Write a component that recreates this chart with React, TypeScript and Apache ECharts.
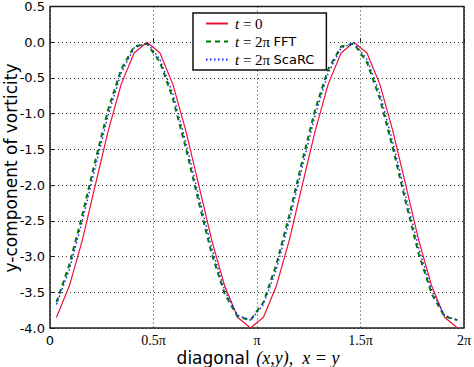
import React, { useEffect, useRef } from "react";
import * as echarts from "echarts";

// x positions along the diagonal, in units of pi
const xPi = [
  0.03125, 0.09375, 0.15625, 0.21875, 0.28125, 0.34375, 0.40625, 0.46875,
  0.53125, 0.59375, 0.65625, 0.71875, 0.78125, 0.84375, 0.90625, 0.96875,
  1.03125, 1.09375, 1.15625, 1.21875, 1.28125, 1.34375, 1.40625, 1.46875,
  1.53125, 1.59375, 1.65625, 1.71875, 1.78125, 1.84375, 1.90625, 1.96875,
];
const initialValues = [
  -3.85, -3.41, -2.77, -2.0, -1.24, -0.59, -0.15, 0.0,
  -0.15, -0.59, -1.24, -2.0, -2.77, -3.41, -3.85, -4.0,
  -3.85, -3.41, -2.77, -2.0, -1.24, -0.59, -0.15, 0.0,
  -0.15, -0.59, -1.24, -2.0, -2.77, -3.41, -3.85, -4.0,
];
const fftValues = [
  -3.64, -3.11, -2.42, -1.66, -0.94, -0.38, -0.06, -0.02,
  -0.28, -0.79, -1.48, -2.24, -2.96, -3.52, -3.84, -3.89,
  -3.64, -3.11, -2.42, -1.66, -0.94, -0.38, -0.06, -0.02,
  -0.28, -0.79, -1.48, -2.24, -2.96, -3.52, -3.84, -3.89,
];
const scarcValues = [
  -3.67, -3.18, -2.5, -1.75, -1.02, -0.43, -0.08, -0.01,
  -0.24, -0.72, -1.4, -2.16, -2.88, -3.47, -3.82, -3.89,
  -3.67, -3.18, -2.5, -1.75, -1.02, -0.43, -0.08, -0.01,
  -0.24, -0.72, -1.4, -2.16, -2.88, -3.47, -3.82, -3.89,
];
const seriesNames = ["t=0", "t=2π FFT", "t=2π ScaRC"];
const legendLabels = [
  "{i|t}{m| = 0}",
  "{i|t}{m| = 2π} {s|FFT}",
  "{i|t}{m| = 2π} {s|ScaRC}",
];
const xTickValues = [0, 0.5, 1, 1.5, 2];
const xTickLabels = ["0", "0.5π", "π", "1.5π", "2π"];
const xTitle = "{s|diagonal}  {m|(x,y),  x = y}";
const yTitle = "y-component of vorticity";

const SANS = "DejaVu Sans";
const SERIF = "Liberation Serif";

export default function App() {
  const ref = useRef<HTMLDivElement>(null);
  useEffect(() => {
    if (!ref.current) return;
    const chart = echarts.init(ref.current, null, { renderer: "svg" });
    const mk = (vals: number[]) => xPi.map((x, i) => [x, vals[i]]);
    chart.setOption({
      animation: false,
      backgroundColor: "#fff",
      grid: {
        left: 50,
        right: 8,
        top: 5,
        bottom: 39,
        show: true,
        borderColor: "#222",
        borderWidth: 1.5,
      },
      xAxis: {
        type: "value",
        min: 0,
        max: 2,
        interval: 0.5,
        axisLine: { show: false },
        axisTick: { show: true, inside: true, length: 4, lineStyle: { color: "#222" } },
        splitLine: { show: true, lineStyle: { color: "#000", type: [1, 3], width: 1, opacity: 0.8 } },
        axisLabel: {
          margin: 6,
          formatter: (v: number) => {
            const idx = xTickValues.findIndex((t) => Math.abs(t - v) < 1e-6);
            if (idx < 0) return "";
            return idx === 0 ? "{s|" + xTickLabels[idx] + "}" : "{m|" + xTickLabels[idx] + "}";
          },
          rich: {
            s: { fontFamily: SANS, fontSize: 13, lineHeight: 13, color: "#000" },
            m: { fontFamily: SERIF, fontSize: 14, lineHeight: 13, color: "#000" },
          },
        },
      },
      yAxis: {
        type: "value",
        min: -4,
        max: 0.5,
        interval: 0.5,
        axisLine: { show: false },
        axisTick: { show: true, inside: true, length: 4, lineStyle: { color: "#222" } },
        splitLine: { show: true, lineStyle: { color: "#000", type: [1, 3], width: 1, opacity: 0.8 } },
        axisLabel: {
          margin: 5,
          fontFamily: SANS,
          fontSize: 13,
          color: "#000",
          formatter: (v: number) => v.toFixed(1),
        },
      },
      legend: {
        left: 193,
        top: 13,
        orient: "vertical",
        backgroundColor: "#fff",
        borderColor: "#111",
        borderWidth: 1.5,
        borderRadius: 0,
        padding: [3, 12, 3, 12],
        itemWidth: 22,
        itemHeight: 12,
        itemGap: 3,
        itemStyle: { opacity: 0 },
        data: seriesNames,
        formatter: (name: string) => legendLabels[seriesNames.indexOf(name)],
        textStyle: {
          color: "#000",
          padding: [0, 0, 0, 2],
          rich: {
            i: { fontFamily: SERIF, fontStyle: "italic", fontSize: 15, lineHeight: 14, color: "#000" },
            m: { fontFamily: SERIF, fontSize: 15, lineHeight: 14, color: "#000" },
            s: { fontFamily: SANS, fontSize: 13, lineHeight: 14, color: "#000" },
          },
        },
      },
      graphic: [
        {
          type: "text",
          x: 258,
          y: 366,
          style: {
            text: xTitle,
            align: "center",
            verticalAlign: "bottom",
            rich: {
              s: { fontFamily: SANS, fontSize: 17, lineHeight: 17, fill: "#000" },
              m: { fontFamily: SERIF, fontStyle: "italic", fontSize: 18, lineHeight: 17, fill: "#000" },
            },
          },
        },
        {
          type: "text",
          x: 2,
          y: 168,
          rotation: Math.PI / 2,
          style: {
            text: yTitle,
            align: "center",
            verticalAlign: "top",
            fontFamily: SANS,
            fontSize: 17,
            fill: "#000",
          },
        },
      ],
      series: [
        {
          name: seriesNames[0],
          type: "line",
          data: mk(initialValues),
          symbol: "none",
          lineStyle: { color: "#ee1133", width: 1.2, type: "solid" },
          itemStyle: { color: "#ee1133" },
        },
        {
          name: seriesNames[1],
          type: "line",
          data: mk(fftValues),
          symbol: "none",
          lineStyle: { color: "#007a00", width: 2, type: [5, 4] },
          itemStyle: { color: "#007a00" },
        },
        {
          name: seriesNames[2],
          type: "line",
          data: mk(scarcValues),
          symbol: "none",
          lineStyle: { color: "#1a1aff", width: 1.4, type: [1.5, 2.5] },
          itemStyle: { color: "#1a1aff" },
        },
      ],
    });
    return () => chart.dispose();
  }, []);
  return (
    <div style={{ position: "absolute", left: 0, top: 0 }}>
      <div ref={ref} style={{ width: 474, height: 367 }} />
    </div>
  );
}
